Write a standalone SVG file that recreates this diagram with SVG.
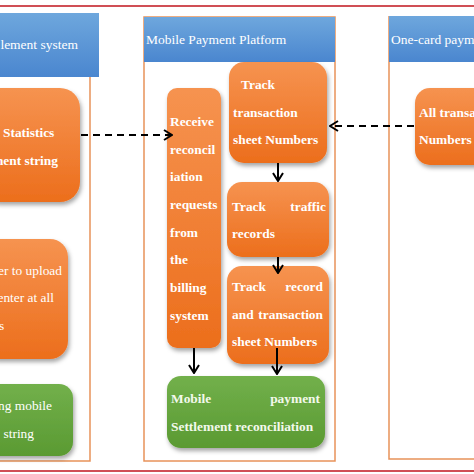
<svg xmlns="http://www.w3.org/2000/svg" width="474" height="474" viewBox="0 0 474 474">
<defs>
<linearGradient id="gOr" x1="0" y1="0" x2="0" y2="1">
<stop offset="0" stop-color="#f69350"/>
<stop offset="1" stop-color="#ec6e1c"/>
</linearGradient>
<linearGradient id="gGr" x1="0" y1="0" x2="0" y2="1">
<stop offset="0" stop-color="#72b04b"/>
<stop offset="1" stop-color="#5a9a32"/>
</linearGradient>
<linearGradient id="gBl" x1="0" y1="0" x2="0" y2="1">
<stop offset="0" stop-color="#6ea7dd"/>
<stop offset="1" stop-color="#4a86cf"/>
</linearGradient>
<filter id="sh" x="-20%" y="-20%" width="140%" height="150%">
<feDropShadow dx="1.5" dy="3" stdDeviation="2" flood-color="#000" flood-opacity="0.35"/>
</filter>
<marker id="ah" viewBox="0 0 10 12" refX="9" refY="6" markerWidth="10" markerHeight="12" markerUnits="userSpaceOnUse" orient="auto">
<path d="M1,1 L9,6 L1,11" fill="none" stroke="#000" stroke-width="2"/>
</marker>
<style>
.col{fill:none;stroke:#e8925a;stroke-width:1.5}
.hdr{fill:url(#gBl)}
.ht{font-family:"Liberation Serif",serif;font-size:13.5px;fill:#fff}
.or{fill:url(#gOr);filter:url(#sh)}
.gr{fill:url(#gGr);filter:url(#sh)}
.t{font-family:"Liberation Serif",serif;font-size:13.4px;font-weight:bold;fill:#fff}
.tr{font-family:"Liberation Serif",serif;font-size:13.4px;fill:#fff}
.tg{font-family:"Liberation Serif",serif;font-size:13.4px;font-weight:bold;fill:#f3f9ec}
.dash{stroke:#000;stroke-width:2;stroke-dasharray:7,5;fill:none}
.sol{stroke:#000;stroke-width:2;fill:none}
</style>
</defs>
<rect width="474" height="474" fill="#fff"/>
<line x1="0" y1="6" x2="474" y2="6" stroke="#c0141c" stroke-width="1.5"/>
<line x1="0" y1="471" x2="474" y2="471" stroke="#c0141c" stroke-width="1.5"/>

<g id="col-left">
<polyline class="col" points="90,77 90,461 -2,461"/>
<rect class="hdr" x="-10" y="13" width="109" height="64"/>
<text class="ht" x="78" y="49" text-anchor="end">lement system</text>
</g>
<g id="col-mid">
<rect class="col" x="144" y="17" width="191" height="444"/>
<rect class="hdr" x="144" y="17" width="191" height="45"/>
<text class="ht" x="146" y="44">Mobile Payment Platform</text>
</g>
<g id="col-right">
<polyline class="col" points="480,459 389,459 389,16"/>
<rect class="hdr" x="389" y="16" width="90" height="46"/>
<text class="ht" x="391" y="44">One-card paym</text>
</g>

<g id="n-stat">
<rect class="or" x="-20" y="88" width="100" height="114" rx="20"/>
<text class="t" x="3" y="137">Statistics</text>
<text class="t" x="58" y="165" text-anchor="end">ment string</text>
</g>
<g id="n-upload">
<rect class="or" x="-20" y="239" width="88" height="120" rx="18"/>
<text class="tr" x="62" y="275" text-anchor="end">er to upload</text>
<text class="tr" x="54" y="302" text-anchor="end">enter at all</text>
<text class="tr" x="-1" y="330">s</text>
</g>
<g id="n-leftgreen">
<rect class="gr" x="-20" y="384" width="93" height="72" rx="14"/>
<text class="tr" x="52" y="410" text-anchor="end">ng mobile</text>
<text class="tr" x="34" y="438" text-anchor="end">string</text>
</g>

<g id="n-receive">
<rect class="or" x="167" y="88" width="54" height="260" rx="10"/>
<text class="t" x="170" y="126">Receive</text>
<text class="t" x="170" y="154">reconcil</text>
<text class="t" x="170" y="181">iation</text>
<text class="t" x="170" y="209">requests</text>
<text class="t" x="170" y="237">from</text>
<text class="t" x="170" y="264">the</text>
<text class="t" x="170" y="292">billing</text>
<text class="t" x="170" y="320">system</text>
</g>
<g id="n-track1">
<rect class="or" x="229" y="62" width="98" height="101" rx="15"/>
<text class="t" x="241" y="89">Track</text>
<text class="t" x="233" y="117">transaction</text>
<text class="t" x="233" y="144">sheet Numbers</text>
</g>
<g id="n-track2">
<rect class="or" x="227" y="182" width="102" height="75" rx="15"/>
<text class="t" x="232" y="211">Track</text>
<text class="t" x="326" y="211" text-anchor="end">traffic</text>
<text class="t" x="232" y="238">records</text>
</g>
<g id="n-track3">
<rect class="or" x="227" y="266" width="102" height="98" rx="15"/>
<text class="t" x="232" y="291">Track</text>
<text class="t" x="323" y="291" text-anchor="end">record</text>
<text class="t" x="232" y="319">and</text>
<text class="t" x="323" y="319" text-anchor="end">transaction</text>
<text class="t" x="232" y="346">sheet Numbers</text>
</g>
<g id="n-mobile">
<rect class="gr" x="167" y="376" width="158" height="72" rx="14"/>
<text class="tg" x="171" y="403">Mobile</text>
<text class="tg" x="320" y="403" text-anchor="end">payment</text>
<text class="tg" x="171" y="431">Settlement reconciliation</text>
</g>
<g id="n-all">
<rect class="or" x="415" y="88" width="80" height="77" rx="15"/>
<text class="t" x="419" y="117">All  transa</text>
<text class="t" x="419" y="144">Numbers</text>
</g>

<g id="connectors">
<line class="dash" x1="81" y1="135" x2="172" y2="135" marker-end="url(#ah)"/>
<line class="dash" x1="414" y1="126" x2="330" y2="126" marker-end="url(#ah)"/>
<line class="sol" x1="278" y1="163" x2="278" y2="181" marker-end="url(#ah)"/>
<line class="sol" x1="278" y1="257" x2="278" y2="273" marker-end="url(#ah)"/>
<line class="sol" x1="277" y1="348" x2="277" y2="374" marker-end="url(#ah)"/>
<line class="sol" x1="194" y1="348" x2="194" y2="373" marker-end="url(#ah)"/>
</g>
</svg>
